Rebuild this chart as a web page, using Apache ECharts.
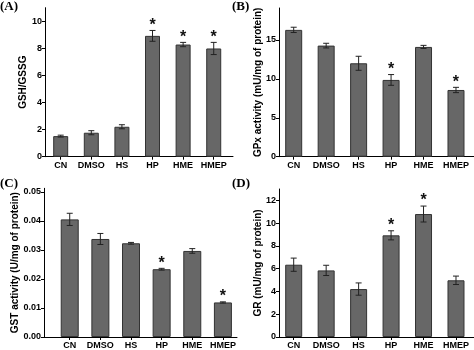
<!DOCTYPE html>
<html>
<head>
<meta charset="utf-8">
<script src="https://cdn.jsdelivr.net/npm/echarts@6/dist/echarts.min.js"></script>
<style>
  html, body { margin: 0; padding: 0; background: #fff; }
  #chart { width: 474px; height: 350px; }
</style>
</head>
<body>
<div id="chart"></div>
<script>
const categories = ['CN', 'DMSO', 'HS', 'HP', 'HME', 'HMEP'];

// (A) GSH/GSSG
const gshValues = [1.52, 1.77, 2.21, 8.92, 8.28, 7.99];
const gshErrors = [0.07, 0.15, 0.15, 0.4, 0.16, 0.45];
const gshStars = [0, 0, 0, 1, 1, 1];
const gshTicks = [0, 2, 4, 6, 8, 10];

// (B) GPx activity
const gpxValues = [16.29, 14.27, 12.0, 9.86, 14.1, 8.57];
const gpxErrors = [0.34, 0.3, 0.9, 0.69, 0.2, 0.34];
const gpxStars = [0, 0, 0, 1, 0, 1];
const gpxTicks = [0, 5, 10, 15];

// (C) GST activity
const gstValues = [0.0405, 0.03375, 0.03227, 0.02334, 0.02963, 0.0119];
const gstErrors = [0.0021, 0.0019, 0.0003, 0.0003, 0.0008, 0.0002];
const gstStars = [0, 0, 0, 1, 0, 1];
const gstTicks = [0, 0.01, 0.02, 0.03, 0.04, 0.05];

// (D) GR
const grValues = [6.35, 5.85, 4.21, 8.93, 10.8, 4.98];
const grErrors = [0.58, 0.45, 0.54, 0.4, 0.7, 0.37];
const grStars = [0, 0, 0, 1, 1, 0];
const grTicks = [0, 2, 4, 6, 8, 10, 12];

const positions = [1, 2, 3, 4, 5, 6];
const font = 'Liberation Sans';

const chart = echarts.init(document.getElementById('chart'));

function renderError(params, api) {
    const x = api.value(0);
    const lo = api.coord([x, api.value(1)]);
    const hi = api.coord([x, api.value(2)]);
    const w = 3;
    const st = { stroke: '#222', lineWidth: 1 };
    const children = [
        { type: 'line', shape: { x1: lo[0], y1: lo[1], x2: hi[0], y2: hi[1] }, style: st },
        { type: 'line', shape: { x1: hi[0] - w, y1: hi[1], x2: hi[0] + w, y2: hi[1] }, style: st },
        { type: 'line', shape: { x1: lo[0] - w, y1: lo[1], x2: lo[0] + w, y2: lo[1] }, style: st }
    ];
    if (api.value(3)) {
        children.push({
            type: 'text',
            style: {
                text: '*', x: hi[0], y: hi[1] + 3,
                align: 'center', verticalAlign: 'bottom',
                font: 'bold 16px "Liberation Sans"', fill: '#111'
            }
        });
    }
    return { type: 'group', children: children };
}

function xAxisFor(idx, min, max) {
    return {
        type: 'value', gridIndex: idx, min: min, max: max,
        splitLine: { show: false },
        axisLine: { show: true, lineStyle: { color: '#000', width: 1 } },
        axisTick: { show: true, length: 3, customValues: positions, lineStyle: { color: '#000' } },
        axisLabel: {
            customValues: positions, margin: 4,
            formatter: v => categories[Math.round(v) - 1] || '',
            color: '#000', fontFamily: font, fontWeight: 'bold', fontSize: 9
        }
    };
}

function yAxisFor(idx, max, ticks, name, gap, digits) {
    return {
        type: 'value', gridIndex: idx, min: 0, max: max,
        name: name, nameLocation: 'middle', nameGap: gap, nameRotate: 90,
        nameMoveOverlap: false,
        nameTextStyle: { color: '#000', fontFamily: font, fontWeight: 'bold', fontSize: 10 },
        splitLine: { show: false },
        axisLine: { show: true, lineStyle: { color: '#000', width: 1 } },
        axisTick: { show: true, length: 3, customValues: ticks, lineStyle: { color: '#000' } },
        axisLabel: {
            customValues: ticks, margin: 3,
            formatter: v => digits ? v.toFixed(digits) : String(v),
            color: '#000', fontFamily: font, fontWeight: 'bold', fontSize: 9
        }
    };
}

function barSeries(idx, values, width) {
    return {
        type: 'bar', xAxisIndex: idx, yAxisIndex: idx, barWidth: width,
        data: values.map((v, i) => [positions[i], v]),
        itemStyle: { color: '#676767', borderColor: '#333', borderWidth: 1 },
        silent: true
    };
}

function errorSeries(idx, values, errors, stars) {
    return {
        type: 'custom', xAxisIndex: idx, yAxisIndex: idx,
        renderItem: renderError, z: 5, silent: true,
        data: values.map((v, i) => [positions[i], v - errors[i], v + errors[i], stars[i]])
    };
}

function panelLabel(text, left, top) {
    return {
        type: 'text', left: left, top: top,
        style: { text: text, font: 'bold 13px "Liberation Serif"', fill: '#000' }
    };
}

const option = {
    animation: false,
    grid: [
        { left: 45, top: 7.7, width: 188, height: 149 },
        { left: 279, top: 8, width: 195, height: 148.7 },
        { left: 44, top: 188.3, width: 193, height: 149 },
        { left: 279, top: 189, width: 195, height: 148.3 }
    ],
    xAxis: [
        xAxisFor(0, 0.487, 6.63),
        xAxisFor(1, 0.547, 6.555),
        xAxisFor(2, 0.16, 6.46),
        xAxisFor(3, 0.547, 6.555)
    ],
    yAxis: [
        yAxisFor(0, 11, gshTicks, 'GSH/GSSG', 17, 0),
        yAxisFor(1, 19.1, gpxTicks, 'GPx activity (mU/mg of protein)', 16, 0),
        yAxisFor(2, 0.0512, gstTicks, 'GST activity (U/mg of protein)', 24, 2),
        yAxisFor(3, 13, grTicks, 'GR (mU/mg of protein)', 16, 0)
    ],
    series: [
        barSeries(0, gshValues, 15),
        errorSeries(0, gshValues, gshErrors, gshStars),
        barSeries(1, gpxValues, 17),
        errorSeries(1, gpxValues, gpxErrors, gpxStars),
        barSeries(2, gstValues, 18),
        errorSeries(2, gstValues, gstErrors, gstStars),
        barSeries(3, grValues, 17),
        errorSeries(3, grValues, grErrors, grStars)
    ],
    graphic: [
        panelLabel('(A)', 0, 0),
        panelLabel('(B)', 232, 0),
        panelLabel('(C)', 0, 177),
        panelLabel('(D)', 232, 177)
    ]
};

chart.setOption(option);
</script>
</body>
</html>
